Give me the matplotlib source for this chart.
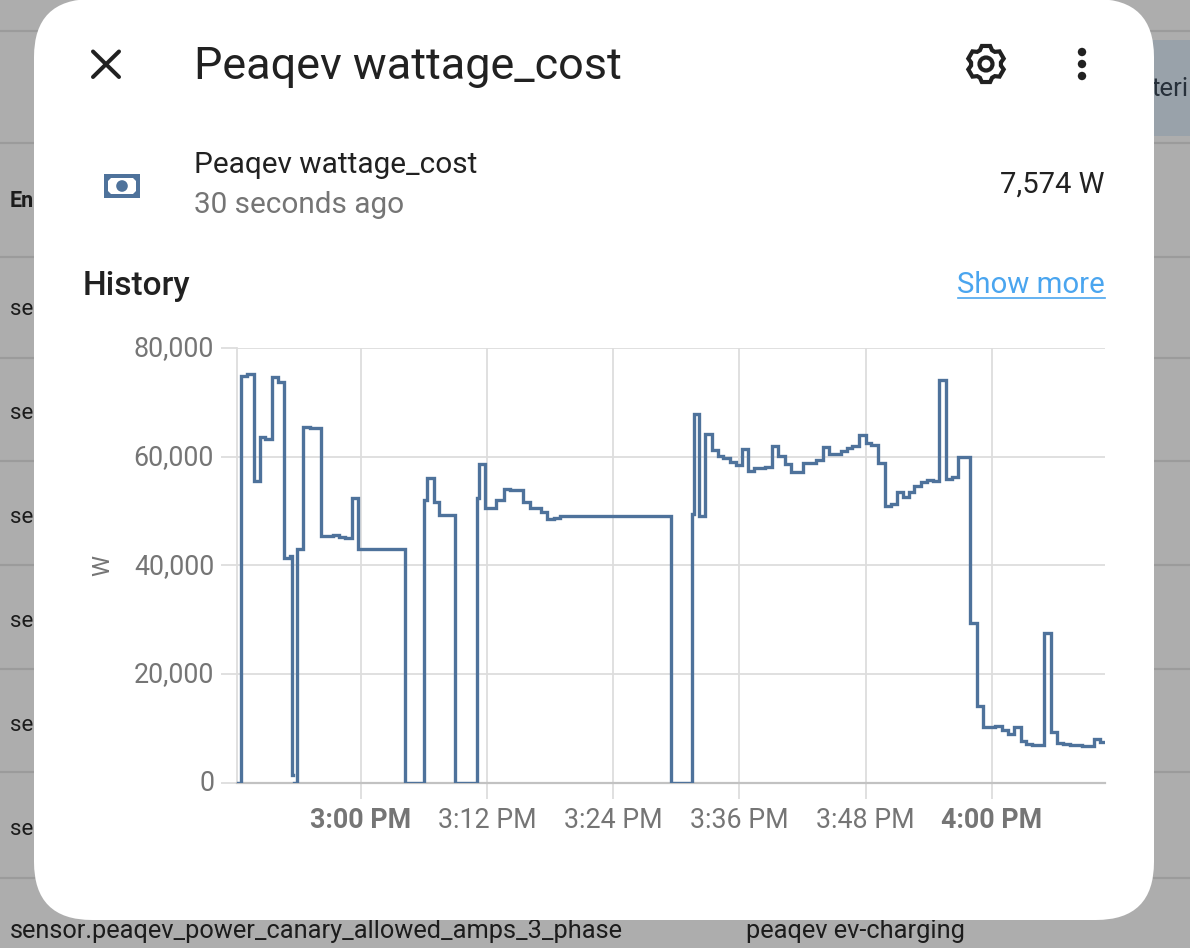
import numpy as np
import matplotlib
matplotlib.use("Agg")
import matplotlib.pyplot as plt
from matplotlib.patches import FancyBboxPatch, Rectangle, Circle, Polygon
from matplotlib.transforms import ScaledTranslation

plt.rcParams['font.family'] = ['Roboto', 'DejaVu Sans']

# minutes after 3:00 PM, value holds until the next entry
minutes = [-11.74, -11.34, -10.81, -10.17, -9.58, -9.06, -8.43, -7.86, -7.23, -6.68,
           -6.49, -6.43, -6.35, -6.06, -5.49, -4.85, -3.74, -2.63, -2.06, -1.52,
           -0.79, -0.22, 4.18, 5.99, 6.30, 6.94, 7.48, 8.94, 11.06, 11.25,
           11.86, 12.90, 13.60, 14.17, 14.74, 15.47, 16.07, 17.18, 17.75, 18.35,
           18.92, 29.52, 31.50, 31.66, 32.17, 32.74, 33.37, 33.97, 34.45, 35.09,
           35.63, 36.20, 36.77, 37.37, 38.41, 39.11, 39.68, 40.38, 40.95, 42.09,
           43.24, 43.90, 44.50, 45.64, 46.18, 46.72, 47.35, 47.99, 48.46, 49.19,
           49.82, 50.37, 50.94, 51.56, 52.11, 52.61, 53.25, 53.85, 54.42, 54.99,
           55.60, 56.17, 56.79, 57.91, 58.55, 59.12, 60.28, 60.98, 61.52, 62.09,
           62.73, 63.23, 63.83, 64.97, 65.58, 66.15, 66.78, 67.41, 68.53, 69.67,
           70.27, 70.74]
watts = [0, 74900, 75150, 55450, 63550, 63240, 74600, 73800, 41270, 41700,
         1380, np.nan, 0, 42930, 65500, 65200, 45400, 45570, 45200, 44960,
         52300, 43000, 0, 52000, 56100, 51570, 49200, 0, 52300, 58700,
         50530, 51950, 54090, 53910, 53800, 51580, 50480, 49740, 48570, 48760,
         49120, 0, 49430, 67800, 49060, 64100, 61200, 60170, 59680, 58950,
         58500, 61400, 57400, 57850, 58000, 61900, 60170, 58640, 57100, 58880,
         59370, 61820, 60530, 60970, 61640, 61950, 63920, 62440, 62080, 58820,
         50900, 51330, 53480, 52500, 53540, 54530, 55260, 55690, 55450, 74100,
         55870, 56240, 59870, 29300, 14030, 10270, 10460, 9670, 8930, 10160,
         7640, 7150, 6900, 27470, 9350, 7210, 7030, 6900, 6660, 7950,
         7510, 7510]

x_ticks = [0, 12, 24, 36, 48, 60]
x_labels = ['3:00 PM', '3:12 PM', '3:24 PM', '3:36 PM', '3:48 PM', '4:00 PM']
y_ticks = [0, 20000, 40000, 60000, 80000]
y_labels = ['0', '20,000', '40,000', '60,000', '80,000']

bg = '#adadad'
rule = '#9b9b9b'
dark = '#212121'
grey = '#757575'
blue = '#4e729b'

W, H = 1190, 948
fig = plt.figure(figsize=(W / 100, H / 100), dpi=100, facecolor=bg)

# page behind the dialog + dialog itself, in pixel coords
back = fig.add_axes([0, 0, 1, 1])
back.set_xlim(0, W)
back.set_ylim(H, 0)
back.axis('off')

for y in [30.5, 143, 257, 358, 461, 565, 669, 772, 878]:
    back.plot([0, W], [y, y], color=rule, lw=1.6, zorder=1)
back.add_patch(Rectangle((1100, 40), 90, 96, color='#99a2aa', lw=0, zorder=2))
back.text(1152, 96, 'teri', fontsize=18.5, color='#27303a', zorder=3)
back.text(10, 207, 'En', fontsize=15.5, weight='bold', color='#1c1c1c', zorder=3)
for y in [315, 419, 523, 627, 731, 835]:
    back.text(10, y, 'se', fontsize=16, color='#1c1c1c', zorder=3)
back.text(10, 938, 'sensor.peaqev_power_canary_allowed_amps_3_phase', fontsize=18.25, color='#1c1c1c', zorder=3)
back.text(746, 938, 'peaqev ev-charging', fontsize=18.25, color='#1c1c1c', zorder=3)

back.add_patch(FancyBboxPatch((34, -1), 1120, 921, boxstyle='round,pad=0,rounding_size=58',
                              fc='white', ec='none', zorder=5))

# close icon
back.plot([93, 119], [51.5, 77], color=dark, lw=2.9, solid_capstyle='round', zorder=6)
back.plot([93, 119], [77, 51.5], color=dark, lw=2.9, solid_capstyle='round', zorder=6)

# cog
ang = np.radians(np.array([a + d for a in range(30, 390, 60) for d in (-24, -13, 13, 24)]))
rad = np.array([15, 18.5, 18.5, 15] * 6)
cog = np.column_stack([986 + rad * np.cos(ang), 64 + rad * np.sin(ang)])
back.add_patch(Polygon(cog, closed=True, fc='none', ec=dark, lw=3, joinstyle='miter', zorder=6))
back.add_patch(Circle((986, 64), 6.5, fc='none', ec=dark, lw=3, zorder=6))

# menu dots
for y in [52, 64, 76]:
    back.add_patch(Circle((1082, y), 4.2, fc=dark, ec='none', zorder=6))

# cash icon
back.add_patch(Rectangle((104, 174), 36, 24, fc=blue, ec='none', zorder=6))
back.add_patch(Polygon([(111, 178), (133, 178), (136, 181), (136, 191), (133, 194), (111, 194),
                        (108, 191), (108, 181)], closed=True, fc='white', ec='none', zorder=7))
back.add_patch(Circle((122, 186), 5.8, fc=blue, ec='none', zorder=8))

back.text(194, 78.5, 'Peaqev wattage_cost', fontsize=32.4, color=dark, zorder=6)
back.text(194, 172.5, 'Peaqev wattage_cost', fontsize=21.4, color=dark, zorder=6)
back.text(194, 212.5, '30 seconds ago', fontsize=21.4, color=grey, zorder=6)
back.text(1105, 193, '7,574 W', fontsize=21, color=dark, ha='right', zorder=6)
back.text(83, 295, 'History', fontsize=24, weight=500, color=dark, zorder=6)
back.text(1105, 293, 'Show more', fontsize=21.2, color='#4aa5ef', ha='right', zorder=6)
back.plot([958, 1105], [297.5, 297.5], color='#4aa5ef', lw=1.2, zorder=6)

# history chart
ax = fig.add_axes([237 / W, 1 - 782.5 / H, 868 / W, 434.5 / H])
ax.patch.set_alpha(0)
ax.plot(minutes, watts, drawstyle='steps-post', color=blue, lw=2.4, solid_joinstyle='miter', zorder=4)
ax.set_xlim(-11.74, 70.74)
ax.set_ylim(0, 80000)
ax.set_xticks(x_ticks, x_labels)
ax.set_yticks(y_ticks, y_labels)
ax.grid(True, color='#dddddd', lw=1.3)
ax.set_axisbelow(True)
ax.tick_params(axis='both', length=11.5, width=1.3, color='#dddddd', labelcolor=grey, labelsize=19.3)
ax.tick_params(axis='x', pad=6)
ax.tick_params(axis='y', pad=5)
for lab in ax.get_xticklabels():
    if lab.get_text() in ('3:00 PM', '4:00 PM'):
        lab.set_fontweight('bold')
# y labels sit a little above their gridlines
lift = ScaledTranslation(0, 2 / 72 * 72 / 100, fig.dpi_scale_trans)
for lab in ax.get_yticklabels():
    lab.set_transform(lab.get_transform() + lift)
for s in ['top', 'right']:
    ax.spines[s].set_visible(False)
ax.spines['left'].set_color('#dddddd')
ax.spines['left'].set_linewidth(1.3)
ax.spines['bottom'].set_color('#c2c2c2')
ax.spines['bottom'].set_linewidth(1.6)
ax.set_ylabel('W', fontsize=17, color=grey)
ax.yaxis.set_label_coords(-0.141, 0.5)

fig.savefig('out.png', dpi=100, facecolor=bg)
